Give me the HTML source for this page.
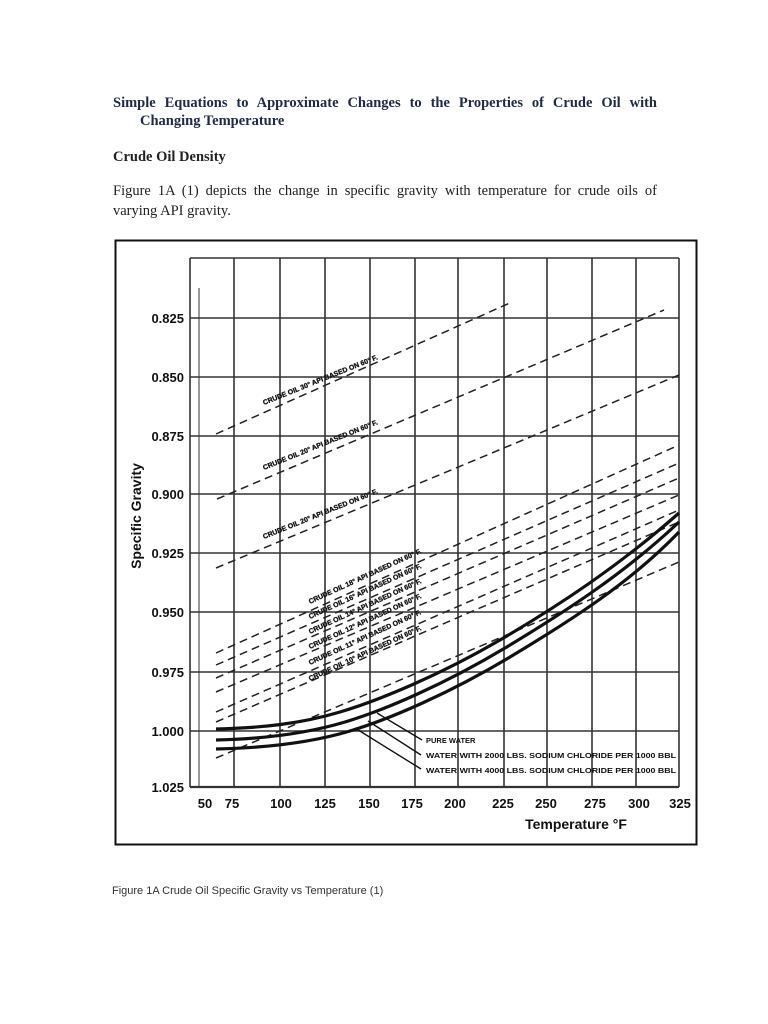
<!DOCTYPE html>
<html><head><meta charset="utf-8"><style>
html,body{margin:0;padding:0;background:#fff;}
body{width:768px;height:1024px;position:relative;overflow:hidden;}
.t{position:absolute;font-family:"Liberation Serif",serif;color:#1f2a44;}
</style></head><body>
<div class="t" style="left:113px;top:94px;width:544px;font-size:14.5px;font-weight:bold;text-align:justify;text-align-last:justify;line-height:18px;">Simple Equations to Approximate Changes to the Properties of Crude Oil with</div>
<div class="t" style="left:140px;top:112px;font-size:14.5px;font-weight:bold;line-height:18px;">Changing Temperature</div>
<div class="t" style="left:113px;top:148px;font-size:14.5px;font-weight:bold;color:#222;line-height:18px;">Crude Oil Density</div>
<div class="t" style="left:113px;top:181px;width:544px;font-size:14.5px;color:#222;text-align:justify;text-align-last:justify;line-height:20px;">Figure 1A (1) depicts the change in specific gravity with temperature for crude oils of</div>
<div class="t" style="left:113px;top:201px;font-size:14.5px;color:#222;line-height:20px;">varying API gravity.</div>
<div style="position:absolute;left:112px;top:885px;font-family:'Liberation Sans',sans-serif;font-size:11px;color:#333;">Figure 1A Crude Oil Specific Gravity vs Temperature (1)</div>
<svg style="position:absolute;left:0;top:0" width="768" height="1024" viewBox="0 0 768 1024">
<rect x="115.5" y="240.5" width="581" height="604" fill="none" stroke="#111" stroke-width="2"/>
<g stroke="#333" stroke-width="1.6" fill="none">
<line x1="190" y1="258" x2="679" y2="258"/>
<line x1="190" y1="318" x2="679" y2="318"/>
<line x1="190" y1="377" x2="679" y2="377"/>
<line x1="190" y1="436" x2="679" y2="436"/>
<line x1="190" y1="494" x2="679" y2="494"/>
<line x1="190" y1="553" x2="679" y2="553"/>
<line x1="190" y1="612" x2="679" y2="612"/>
<line x1="190" y1="672" x2="679" y2="672"/>
<line x1="190" y1="731" x2="679" y2="731"/>
<line x1="190" y1="787" x2="679" y2="787" stroke-width="2.2"/>
<line x1="190" y1="258" x2="190" y2="787"/>
<line x1="234" y1="258" x2="234" y2="787"/>
<line x1="280" y1="258" x2="280" y2="787"/>
<line x1="325" y1="258" x2="325" y2="787"/>
<line x1="370" y1="258" x2="370" y2="787"/>
<line x1="415" y1="258" x2="415" y2="787"/>
<line x1="458" y1="258" x2="458" y2="787"/>
<line x1="504" y1="258" x2="504" y2="787"/>
<line x1="547" y1="258" x2="547" y2="787"/>
<line x1="592" y1="258" x2="592" y2="787"/>
<line x1="636" y1="258" x2="636" y2="787"/>
<line x1="679" y1="258" x2="679" y2="787"/>
<line x1="199" y1="288" x2="199" y2="787" stroke-width="1"/>
</g>
<g stroke="#222" stroke-width="1.5" fill="none" stroke-dasharray="8,5">
<line x1="216" y1="434" x2="512" y2="302"/>
<line x1="217" y1="499" x2="664" y2="310"/>
<line x1="216" y1="568" x2="679" y2="375"/>
<line x1="216" y1="653" x2="679" y2="445"/>
<line x1="216" y1="665" x2="679" y2="463"/>
<line x1="216" y1="678" x2="679" y2="478"/>
<line x1="216" y1="692" x2="679" y2="495"/>
<line x1="216" y1="712" x2="679" y2="510"/>
<line x1="216" y1="722" x2="679" y2="522"/>
<line x1="216" y1="758" x2="679" y2="562"/>
</g>
<g stroke="#111" stroke-width="3.2" fill="none">
<path d="M216,729 C260,728 300,724 340,712 S440,675 500,640 S620,565 679,513"/>
<path d="M216,740 C262,739 305,734 345,722 S445,684 505,648 S625,573 679,522"/>
<path d="M216,749 C264,748 310,743 350,731 S450,693 510,657 S630,583 679,532"/>
</g>
<g stroke="#111" stroke-width="1.4">
<line x1="377" y1="713" x2="422" y2="740"/>
<line x1="368" y1="721" x2="421" y2="755"/>
<line x1="355" y1="728" x2="421" y2="769"/>
</g>
<g font-family="Liberation Sans,sans-serif" font-weight="bold" fill="#111">
<text x="184" y="323" font-size="13" text-anchor="end">0.825</text>
<text x="184" y="382" font-size="13" text-anchor="end">0.850</text>
<text x="184" y="441" font-size="13" text-anchor="end">0.875</text>
<text x="184" y="499" font-size="13" text-anchor="end">0.900</text>
<text x="184" y="558" font-size="13" text-anchor="end">0.925</text>
<text x="184" y="617" font-size="13" text-anchor="end">0.950</text>
<text x="184" y="677" font-size="13" text-anchor="end">0.975</text>
<text x="184" y="736" font-size="13" text-anchor="end">1.000</text>
<text x="184" y="792" font-size="13" text-anchor="end">1.025</text>
<g font-size="13" text-anchor="middle">
<text x="205" y="808">50</text><text x="232" y="808">75</text><text x="281" y="808">100</text>
<text x="325" y="808">125</text><text x="369" y="808">150</text><text x="412" y="808">175</text>
<text x="455" y="808">200</text><text x="503" y="808">225</text><text x="546" y="808">250</text>
<text x="595" y="808">275</text><text x="639" y="808">300</text><text x="680" y="808">325</text>
</g>
<text x="576" y="829" font-size="14" text-anchor="middle">Temperature °F</text>
<text transform="translate(141,516) rotate(-90)" font-size="14" text-anchor="middle">Specific Gravity</text>
<g font-size="7.5">
<text x="426" y="743">PURE WATER</text>
<text x="426" y="758" textLength="250" lengthAdjust="spacingAndGlyphs">WATER WITH 2000 LBS. SODIUM CHLORIDE PER 1000 BBL</text>
<text x="426" y="773" textLength="250" lengthAdjust="spacingAndGlyphs">WATER WITH 4000 LBS. SODIUM CHLORIDE PER 1000 BBL</text>
</g>
<g font-size="7" stroke="#111" stroke-width="0.3">
<text transform="translate(264,405) rotate(-21.9)">CRUDE OIL 30° API BASED ON 60° F.</text>
<text transform="translate(264,470) rotate(-21.9)">CRUDE OIL 20° API BASED ON 60° F.</text>
<text transform="translate(264,539) rotate(-21.9)">CRUDE OIL 20° API BASED ON 60° F.</text>
<text transform="translate(310,604) rotate(-24.6)">CRUDE OIL 18° API BASED ON 60° F.</text>
<text transform="translate(310,619) rotate(-24.6)">CRUDE OIL 16° API BASED ON 60° F.</text>
<text transform="translate(310,634) rotate(-24.6)">CRUDE OIL 14° API BASED ON 60° F.</text>
<text transform="translate(310,649) rotate(-24.6)">CRUDE OIL 12° API BASED ON 60° F.</text>
<text transform="translate(310,665) rotate(-24.6)">CRUDE OIL 11° API BASED ON 60° F.</text>
<text transform="translate(310,681) rotate(-24.6)">CRUDE OIL 10° API BASED ON 60° F.</text>
</g>
</g>
</svg>
</body></html>
